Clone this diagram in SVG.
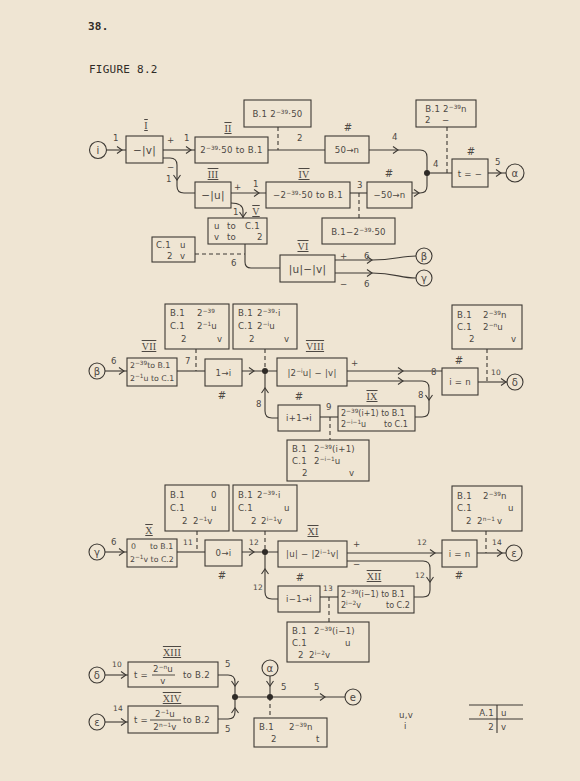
<svg xmlns="http://www.w3.org/2000/svg" width="580" height="781" viewBox="0 0 580 781">
<style>
 text{font-family:"DejaVu Sans","Liberation Sans",sans-serif;font-size:8.6px;letter-spacing:0.25px;fill:#4d4843}
 .m{text-anchor:middle}
 .e{text-anchor:end}
 .big{font-size:10.5px}
 .s{font-size:5.8px;letter-spacing:0}
 .lb{font-size:7.5px}
 .sm{font-size:8px;letter-spacing:0}
 .xs{font-size:7.8px;letter-spacing:0}
 .h{font-size:10px;text-anchor:middle}
 .rn{font-family:"Liberation Serif",serif;font-size:10px;text-anchor:middle;text-decoration:underline overline}
 .hd{font-family:"DejaVu Sans Mono",monospace;font-size:11px;fill:#2f2b27}
 rect.b{fill:none;stroke:#3d3934;stroke-width:1.1}
 circle.n{fill:none;stroke:#3d3934;stroke-width:1.1}
 .c path,.c line{fill:none;stroke:#3d3934;stroke-width:1.1}
 .c .d{stroke-dasharray:4 3}
 .dot{fill:#2e2a26}
</style>
<defs>
 <path id="ar" d="M-5,-3.5 L0,0 L-5,3.5" fill="none" stroke="#3d3934" stroke-width="1.1"/>
</defs>
<rect width="580" height="781" fill="#efe5d3"/>
<text class="hd" x="88" y="30" font-weight="bold">38.</text>
<text class="hd" x="89" y="73" letter-spacing="0.3">FIGURE 8.2</text>

<!-- ===== connectors ===== -->
<g id="connectors" class="c">
 <!-- section 1 -->
 <line x1="107" y1="150" x2="126" y2="150"/>
 <line x1="163" y1="150" x2="195" y2="150"/>
 <line x1="268" y1="150" x2="325" y2="150"/>
 <line class="d" x1="278" y1="127" x2="278" y2="150"/>
 <path d="M369,150 L420,150 Q427,150 427,157 L427,173"/>
 <line x1="427" y1="173" x2="452" y2="173"/>
 <line class="d" x1="447" y1="127" x2="447" y2="173"/>
 <line x1="488" y1="173" x2="506" y2="173"/>
 <path d="M163,158 L170,158 Q177,158 177,165 L177,186 Q177,193 184,193 L195,193"/>
 <line x1="231" y1="193" x2="266" y2="193"/>
 <line x1="350" y1="193" x2="367" y2="193"/>
 <line class="d" x1="359" y1="193" x2="359" y2="218"/>
 <path d="M412,193 L420,193 Q427,193 427,186 L427,173"/>
 <path d="M231,203 Q243,203 243,211 L243,218"/>
 <line class="d" x1="195" y1="254" x2="245" y2="254"/>
 <path d="M245,244 L245,262 Q245,268 251,268 L280,268"/>
 <path d="M335,260 L372,260 C395,260 400,256 416,256"/>
 <path d="M335,273 L372,273 C395,273 400,278 416,278"/>
 <circle class="dot" cx="427" cy="173" r="3"/>
 <use href="#ar" transform="translate(122,150)"/>
 <use href="#ar" transform="translate(191,150)"/>
 <use href="#ar" transform="translate(398,150)"/>
 <use href="#ar" transform="translate(501,173)"/>
 <use href="#ar" transform="translate(177,180) rotate(90)"/>
 <use href="#ar" transform="translate(259,193)"/>
 <use href="#ar" transform="translate(419,193)"/>
 <use href="#ar" transform="translate(243,217) rotate(90)"/>
 <use href="#ar" transform="translate(372,260)"/>
 <use href="#ar" transform="translate(372,273)"/>
 <text x="113" y="141">1</text>
 <text x="167" y="143">+</text>
 <text x="184" y="141">1</text>
 <text x="297" y="141">2</text>
 <text x="392" y="140">4</text>
 <text x="433" y="167">4</text>
 <text x="495" y="165">5</text>
 <text x="167" y="170">−</text>
 <text x="166" y="182">1</text>
 <text x="234" y="190">+</text>
 <text x="253" y="187">1</text>
 <text x="357" y="188">3</text>
 <text x="233" y="215">1</text>
 <text x="231" y="266">6</text>
 <text x="340" y="259">+</text>
 <text x="364" y="259">6</text>
 <text x="340" y="287">−</text>
 <text x="364" y="287">6</text>

 <!-- section 2 -->
 <line x1="105" y1="371" x2="127" y2="371"/>
 <line x1="177" y1="371" x2="205" y2="371"/>
 <line class="d" x1="196" y1="349" x2="196" y2="371"/>
 <line x1="242" y1="371" x2="277" y2="371"/>
 <line class="d" x1="265" y1="349" x2="265" y2="371"/>
 <line x1="347" y1="371" x2="442" y2="371"/>
 <path d="M347,381 L422,381 Q429,381 429,388 L429,410 Q429,417 422,417 L415,417"/>
 <line class="d" x1="487" y1="349" x2="487" y2="382"/>
 <line x1="478" y1="382" x2="507" y2="382"/>
 <line x1="320" y1="417" x2="338" y2="417"/>
 <line class="d" x1="330" y1="417" x2="330" y2="440"/>
 <path d="M278,418 L272,418 Q265,418 265,411 L265,371"/>
 <circle class="dot" cx="265" cy="371" r="3"/>
 <use href="#ar" transform="translate(124,371)"/>
 <use href="#ar" transform="translate(254,371)"/>
 <use href="#ar" transform="translate(403,371)"/>
 <use href="#ar" transform="translate(403,381)"/>
 <use href="#ar" transform="translate(429,400) rotate(90)"/>
 <use href="#ar" transform="translate(506,382)"/>
 <use href="#ar" transform="translate(265,388) rotate(-90)"/>
 <text x="111" y="364">6</text>
 <text x="185" y="364">7</text>
 <text x="256" y="407">8</text>
 <text x="351" y="366">+</text>
 <text x="431" y="375">8</text>
 <text x="418" y="398">8</text>
 <text x="326" y="410">9</text>
 <text x="491" y="375" class="lb">10</text>

 <!-- section 3 -->
 <line x1="105" y1="552" x2="127" y2="552"/>
 <line x1="177" y1="552" x2="205" y2="552"/>
 <line class="d" x1="197" y1="531" x2="197" y2="552"/>
 <line x1="242" y1="552" x2="278" y2="552"/>
 <line class="d" x1="265" y1="531" x2="265" y2="552"/>
 <line x1="347" y1="553" x2="442" y2="553"/>
 <path d="M347,561 L423,561 Q430,561 430,568 L430,590 Q430,597 423,597 L414,597"/>
 <line class="d" x1="486" y1="531" x2="486" y2="553"/>
 <line x1="477" y1="553" x2="506" y2="553"/>
 <line x1="320" y1="597" x2="338" y2="597"/>
 <line class="d" x1="329" y1="597" x2="329" y2="622"/>
 <path d="M278,599 L272,599 Q265,599 265,592 L265,552"/>
 <circle class="dot" cx="265" cy="552" r="3"/>
 <use href="#ar" transform="translate(124,552)"/>
 <use href="#ar" transform="translate(254,552)"/>
 <use href="#ar" transform="translate(435,553)"/>
 <use href="#ar" transform="translate(430,582) rotate(90)"/>
 <use href="#ar" transform="translate(502,553)"/>
 <use href="#ar" transform="translate(265,569) rotate(-90)"/>
 <text x="111" y="545">6</text>
 <text x="183" y="545" class="lb">11</text>
 <text x="249" y="545" class="lb">12</text>
 <text x="253" y="590" class="lb">12</text>
 <text x="353" y="547">+</text>
 <text x="353" y="567">−</text>
 <text x="417" y="545" class="lb">12</text>
 <text x="415" y="578" class="lb">12</text>
 <text x="323" y="591" class="lb">13</text>
 <text x="492" y="545" class="lb">14</text>

 <!-- section 4 -->
 <line x1="105" y1="675" x2="128" y2="675"/>
 <path d="M218,675 L228,675 Q235,675 235,682 L235,697"/>
 <line x1="105" y1="722" x2="128" y2="722"/>
 <path d="M218,719 L228,719 Q235,719 235,712 L235,697"/>
 <line x1="235" y1="697" x2="345" y2="697"/>
 <line x1="270" y1="676" x2="270" y2="697"/>
 <line class="d" x1="270" y1="697" x2="270" y2="718"/>
 <circle class="dot" cx="235" cy="697" r="3"/>
 <circle class="dot" cx="270" cy="697" r="3"/>
 <use href="#ar" transform="translate(126,675)"/>
 <use href="#ar" transform="translate(126,722)"/>
 <use href="#ar" transform="translate(235,686) rotate(90)"/>
 <use href="#ar" transform="translate(235,708) rotate(-90)"/>
 <use href="#ar" transform="translate(270,686) rotate(90)"/>
 <use href="#ar" transform="translate(325,697)"/>
 <text x="112" y="667" class="lb">10</text>
 <text x="225" y="667">5</text>
 <text x="113" y="711" class="lb">14</text>
 <text x="225" y="732">5</text>
 <text x="281" y="690">5</text>
 <text x="314" y="690">5</text>
</g>

<!-- ===== section 1 nodes ===== -->
<g id="in-i"><circle class="n" cx="98" cy="150" r="8.5"/><text class="h" x="98" y="154">i</text></g>
<g id="box-I"><rect class="b" x="126" y="136" width="37" height="27"/><text class="m big" x="144.5" y="154">−|v|</text><text class="rn" x="146" y="129">I</text></g>
<g id="box-II"><rect class="b" x="195" y="137" width="73" height="26"/><text class="m" x="231.5" y="153">2<tspan class="s" dy="-3.5">−39</tspan><tspan dy="3.5">·50 to B.1</tspan></text><text class="rn" x="228" y="132">II</text></g>
<g id="mem-II"><rect class="b" x="244" y="100" width="67" height="27"/><text class="m" x="277.5" y="117">B.1 2<tspan class="s" dy="-3.5">−39</tspan><tspan dy="3.5">·50</tspan></text></g>
<g id="box-50n"><rect class="b" x="325" y="136" width="44" height="27"/><text class="m" x="347" y="153">50→n</text><text class="h" x="348" y="131">#</text></g>
<g id="mem-t"><rect class="b" x="416" y="100" width="60" height="27"/><text class="m" x="446" y="112">B.1 2<tspan class="s" dy="-3.5">−39</tspan><tspan dy="3.5">n</tspan></text><text x="425" y="123">2</text><text x="442" y="123">−</text></g>
<g id="box-t"><rect class="b" x="452" y="159" width="36" height="28"/><text class="m" x="470" y="177">t = −</text><text class="h" x="471" y="155">#</text></g>
<g id="out-alpha"><circle class="n" cx="515" cy="173" r="9"/><text class="h" x="515" y="177">α</text></g>
<g id="box-III"><rect class="b" x="195" y="182" width="36" height="26"/><text class="m big" x="213" y="199">−|u|</text><text class="rn" x="213" y="178">III</text></g>
<g id="box-IV"><rect class="b" x="266" y="182" width="84" height="26"/><text class="m" x="308" y="198">−2<tspan class="s" dy="-3.5">−39</tspan><tspan dy="3.5">·50 to B.1</tspan></text><text class="rn" x="304" y="178">IV</text></g>
<g id="box-m50n"><rect class="b" x="367" y="182" width="45" height="26"/><text class="m" x="389.5" y="198">−50→n</text><text class="h" x="389" y="177">#</text></g>
<g id="mem-IV"><rect class="b" x="322" y="218" width="73" height="26"/><text class="m" x="358.5" y="235">B.1−2<tspan class="s" dy="-3.5">−39</tspan><tspan dy="3.5">·50</tspan></text></g>
<g id="box-V"><rect class="b" x="208" y="218" width="59" height="26"/><text x="214" y="229">u</text><text x="227" y="229">to</text><text x="245" y="229">C.1</text><text x="214" y="240">v</text><text x="227" y="240">to</text><text x="257" y="240">2</text><text class="rn" x="256" y="215">V</text></g>
<g id="mem-V"><rect class="b" x="152" y="237" width="43" height="25"/><text x="156" y="248">C.1</text><text x="180" y="248">u</text><text x="167" y="259">2</text><text x="180" y="259">v</text></g>
<g id="box-VI"><rect class="b" x="280" y="255" width="55" height="27"/><text class="m big" x="307.5" y="273">|u|−|v|</text><text class="rn" x="303" y="250">VI</text></g>
<g id="out-beta"><circle class="n" cx="424" cy="256" r="8"/><text class="h" x="424" y="260">β</text></g>
<g id="out-gamma"><circle class="n" cx="424" cy="278" r="8"/><text class="h" x="424" y="282">γ</text></g>

<!-- ===== section 2 nodes ===== -->
<g id="in-beta"><circle class="n" cx="97" cy="371" r="8"/><text class="h" x="97" y="375">β</text></g>
<g id="box-VII"><rect class="b" x="127" y="358" width="50" height="28"/><text class="xs" x="130" y="368">2<tspan class="s" dy="-3.5">−39</tspan><tspan dy="3.5">to B.1</tspan></text><text class="xs" x="130" y="381">2<tspan class="s" dy="-3.5">−1</tspan><tspan dy="3.5">u to C.1</tspan></text><text class="rn" x="149" y="350">VII</text></g>
<g id="mem-VII"><rect class="b" x="165" y="304" width="64" height="45"/><text x="170" y="316">B.1</text><text x="197" y="316">2<tspan class="s" dy="-3.5">−39</tspan></text><text x="170" y="329">C.1</text><text x="197" y="329">2<tspan class="s" dy="-3.5">−1</tspan><tspan dy="3.5">u</tspan></text><text x="181" y="342">2</text><text x="217" y="342">v</text></g>
<g id="box-1i"><rect class="b" x="205" y="359" width="37" height="27"/><text class="m" x="223.5" y="376">1→i</text><text class="h" x="222" y="399">#</text></g>
<g id="mem-1i"><rect class="b" x="233" y="304" width="64" height="45"/><text x="238" y="316">B.1</text><text x="257" y="316">2<tspan class="s" dy="-3.5">−39</tspan><tspan dy="3.5">·i</tspan></text><text x="238" y="329">C.1</text><text x="257" y="329">2<tspan class="s" dy="-3.5">−i</tspan><tspan dy="3.5">u</tspan></text><text x="249" y="342">2</text><text x="284" y="342">v</text></g>
<g id="box-VIII"><rect class="b" x="277" y="358" width="70" height="28"/><text class="m" x="312" y="376">|2<tspan class="s" dy="-3.5">−i</tspan><tspan dy="3.5">u| − |v|</tspan></text><text class="rn" x="315" y="350">VIII</text><text class="h" x="299" y="400">#</text></g>
<g id="box-IX"><rect class="b" x="338" y="406" width="77" height="25"/><text class="sm" x="341" y="416">2<tspan class="s" dy="-3.5">−39</tspan><tspan dy="3.5">(i+1) to B.1</tspan></text><text class="sm" x="341" y="427">2<tspan class="s" dy="-3.5">−i−1</tspan><tspan dy="3.5">u</tspan></text><text class="sm" x="384" y="427">to C.1</text><text class="rn" x="372" y="400">IX</text></g>
<g id="box-i1i"><rect class="b" x="278" y="405" width="42" height="26"/><text class="m" x="299" y="421">i+1→i</text></g>
<g id="mem-IX"><rect class="b" x="287" y="440" width="82" height="41"/><text x="292" y="452">B.1</text><text x="314" y="452">2<tspan class="s" dy="-3.5">−39</tspan><tspan dy="3.5">(i+1)</tspan></text><text x="292" y="464">C.1</text><text x="314" y="464">2<tspan class="s" dy="-3.5">−i−1</tspan><tspan dy="3.5">u</tspan></text><text x="302" y="476">2</text><text x="349" y="476">v</text></g>
<g id="box-in"><rect class="b" x="442" y="368" width="36" height="27"/><text class="m" x="460" y="385">i = n</text><text class="h" x="459" y="364">#</text></g>
<g id="mem-in"><rect class="b" x="452" y="305" width="70" height="44"/><text x="457" y="318">B.1</text><text x="483" y="318">2<tspan class="s" dy="-3.5">−39</tspan><tspan dy="3.5">n</tspan></text><text x="457" y="330">C.1</text><text x="483" y="330">2<tspan class="s" dy="-3.5">−n</tspan><tspan dy="3.5">u</tspan></text><text x="469" y="342">2</text><text x="511" y="342">v</text></g>
<g id="out-delta"><circle class="n" cx="515" cy="382" r="8"/><text class="h" x="515" y="386">δ</text></g>

<!-- ===== section 3 nodes ===== -->
<g id="in-gamma"><circle class="n" cx="97" cy="552" r="8"/><text class="h" x="97" y="556">γ</text></g>
<g id="box-X"><rect class="b" x="127" y="539" width="50" height="28"/><text class="xs" x="131" y="549">0</text><text class="xs" x="150" y="549">to B.1</text><text class="xs" x="130" y="562">2<tspan class="s" dy="-3.5">−1</tspan><tspan dy="3.5">v to C.2</tspan></text><text class="rn" x="149" y="534">X</text></g>
<g id="mem-X"><rect class="b" x="165" y="485" width="64" height="46"/><text x="170" y="498">B.1</text><text x="211" y="498">0</text><text x="170" y="511">C.1</text><text x="211" y="511">u</text><text x="182" y="524">2</text><text x="193" y="524">2<tspan class="s" dy="-3.5">−1</tspan><tspan dy="3.5">v</tspan></text></g>
<g id="box-0i"><rect class="b" x="205" y="540" width="37" height="26"/><text class="m" x="223.5" y="556">0→i</text><text class="h" x="222" y="579">#</text></g>
<g id="mem-0i"><rect class="b" x="233" y="485" width="64" height="46"/><text x="238" y="498">B.1</text><text x="257" y="498">2<tspan class="s" dy="-3.5">−39</tspan><tspan dy="3.5">·i</tspan></text><text x="238" y="511">C.1</text><text x="284" y="511">u</text><text x="251" y="524">2</text><text x="261" y="524">2<tspan class="s" dy="-3.5">i−1</tspan><tspan dy="3.5">v</tspan></text></g>
<g id="box-XI"><rect class="b" x="278" y="541" width="69" height="26"/><text class="m" x="312.5" y="557">|u| − |2<tspan class="s" dy="-3.5">i−1</tspan><tspan dy="3.5">v|</tspan></text><text class="rn" x="313" y="535">XI</text><text class="h" x="300" y="581">#</text></g>
<g id="box-XII"><rect class="b" x="338" y="586" width="76" height="27"/><text class="sm" x="341" y="597">2<tspan class="s" dy="-3.5">−39</tspan><tspan dy="3.5">(i−1) to B.1</tspan></text><text class="sm" x="341" y="608">2<tspan class="s" dy="-3.5">i−2</tspan><tspan dy="3.5">v</tspan></text><text class="sm" x="386" y="608">to C.2</text><text class="rn" x="374" y="580">XII</text></g>
<g id="box-im1i"><rect class="b" x="278" y="586" width="42" height="26"/><text class="m" x="299" y="602">i−1→i</text></g>
<g id="mem-XII"><rect class="b" x="287" y="622" width="82" height="40"/><text x="292" y="634">B.1</text><text x="314" y="634">2<tspan class="s" dy="-3.5">−39</tspan><tspan dy="3.5">(i−1)</tspan></text><text x="292" y="646">C.1</text><text x="345" y="646">u</text><text x="298" y="658">2</text><text x="309" y="658">2<tspan class="s" dy="-3.5">i−2</tspan><tspan dy="3.5">v</tspan></text></g>
<g id="box-in2"><rect class="b" x="442" y="540" width="35" height="27"/><text class="m" x="459.5" y="557">i = n</text><text class="h" x="459" y="579">#</text></g>
<g id="mem-in2"><rect class="b" x="452" y="486" width="70" height="45"/><text x="457" y="499">B.1</text><text x="483" y="499">2<tspan class="s" dy="-3.5">−39</tspan><tspan dy="3.5">n</tspan></text><text x="457" y="511">C.1</text><text x="508" y="511">u</text><text x="466" y="524">2</text><text x="477" y="524">2<tspan class="s" dy="-3.5">n−1</tspan><tspan dx="2" dy="3.5">v</tspan></text></g>
<g id="out-eps"><circle class="n" cx="514" cy="553" r="8"/><text class="h" x="514" y="557">ε</text></g>

<!-- ===== section 4 nodes ===== -->
<g id="in-delta"><circle class="n" cx="97" cy="675" r="8"/><text class="h" x="97" y="679">δ</text></g>
<g id="box-XIII"><rect class="b" x="128" y="662" width="90" height="25"/><text x="134" y="678">t =</text><text class="m" x="163" y="672">2<tspan class="s" dy="-3.5">−n</tspan><tspan dy="3.5">u</tspan></text><line x1="152" y1="675" x2="175" y2="675" stroke="#3d3934" stroke-width="0.9"/><text class="m" x="163" y="684">v</text><text x="183" y="678">to B.2</text><text class="rn" x="172" y="656">XIII</text></g>
<g id="in-eps"><circle class="n" cx="97" cy="722" r="8"/><text class="h" x="97" y="726">ε</text></g>
<g id="box-XIV"><rect class="b" x="128" y="706" width="90" height="27"/><text x="134" y="723">t =</text><text class="m" x="165" y="717">2<tspan class="s" dy="-3.5">−1</tspan><tspan dy="3.5">u</tspan></text><line x1="150" y1="720" x2="181" y2="720" stroke="#3d3934" stroke-width="0.9"/><text class="m" x="165" y="730">2<tspan class="s" dy="-3.5">n−1</tspan><tspan dy="3.5">v</tspan></text><text x="183" y="723">to B.2</text><text class="rn" x="172" y="702">XIV</text></g>
<g id="in-alpha"><circle class="n" cx="270" cy="668" r="8"/><text class="h" x="270" y="672">α</text></g>
<g id="mem-end"><rect class="b" x="254" y="718" width="73" height="29"/><text x="259" y="730">B.1</text><text x="289" y="730">2<tspan class="s" dy="-3.5">−39</tspan><tspan dy="3.5">n</tspan></text><text x="271" y="742">2</text><text x="316" y="742">t</text></g>
<g id="out-e"><circle class="n" cx="353" cy="697" r="8"/><text class="h" x="353" y="701">e</text></g>

<!-- legend -->
<g id="legend">
 <text x="399" y="718">u,v</text>
 <text x="404" y="729">i</text>
 <line x1="469" y1="705" x2="523" y2="705" stroke="#3d3934" stroke-width="1.1"/>
 <line x1="469" y1="719" x2="523" y2="719" stroke="#3d3934" stroke-width="1.1"/>
 <line x1="497" y1="705" x2="497" y2="733" stroke="#3d3934" stroke-width="1.1"/>
 <text class="e" x="494" y="716">A.1</text>
 <text x="501" y="716">u</text>
 <text class="e" x="494" y="730">2</text>
 <text x="501" y="730">v</text>
</g>
</svg>
